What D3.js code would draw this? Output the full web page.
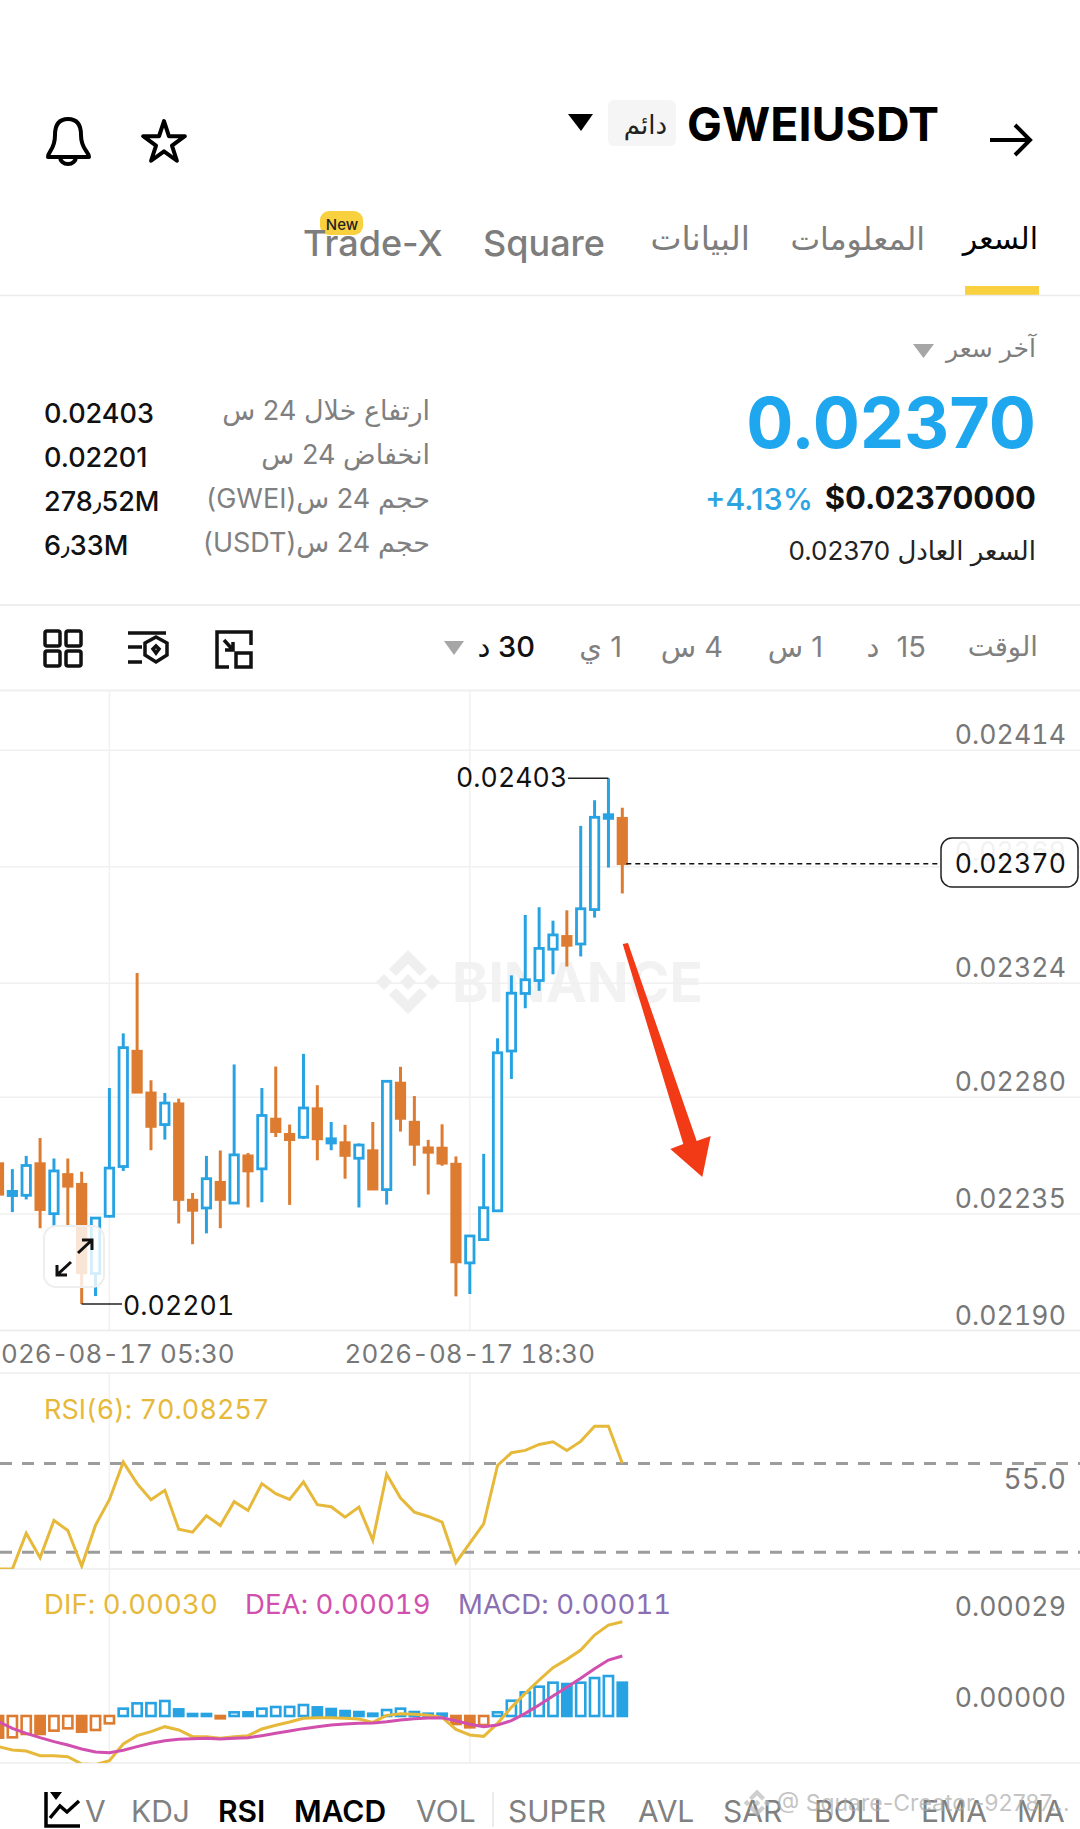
<!DOCTYPE html>
<html>
<head>
	<meta charset="utf-8">
	<script type="text/javascript" src="https://cdn.jsdelivr.net/npm/d3@7"></script>
	<style>
		html, body { margin: 0; padding: 0; background: #fff; }
		svg { display: block; }
		.tnum { font-variant-numeric: tabular-nums; }
	</style>
</head>
<body>
	<script type="text/javascript">

	// candles, oldest first
	var candleOpen = [0.022542,0.022419,0.022420,0.022542,0.022349,0.022500,0.022462,0.022118,0.022339,0.022531,0.022976,0.022815,0.022693,0.022773,0.022401,0.022371,0.022470,0.022390,0.022572,0.022522,0.022714,0.022655,0.022644,0.022754,0.022622,0.022623,0.022563,0.022592,0.022442,0.022853,0.022702,0.022603,0.022602,0.022540,0.022159,0.022249,0.022360,0.022977,0.023199,0.023249,0.023370,0.023419,0.023390,0.023523,0.023875,0.023875];
	var candleHigh = [0.022583,0.022521,0.022572,0.022641,0.022562,0.022562,0.022511,0.022332,0.022834,0.023045,0.023278,0.022864,0.022815,0.022793,0.022429,0.022572,0.022593,0.022925,0.022583,0.022834,0.022917,0.022693,0.022966,0.022845,0.022703,0.022692,0.022620,0.022703,0.022863,0.022916,0.022803,0.022634,0.022694,0.022570,0.022266,0.022580,0.023026,0.023269,0.023502,0.023532,0.023480,0.023520,0.023846,0.023945,0.024030,0.023916];
	var candleLow = [0.022376,0.022355,0.022404,0.022293,0.022300,0.022300,0.022000,0.022031,0.022335,0.022514,0.022818,0.022594,0.022635,0.022311,0.022231,0.022273,0.022293,0.022386,0.022373,0.022393,0.022645,0.022383,0.022638,0.022555,0.022594,0.022484,0.022373,0.022444,0.022384,0.022666,0.022534,0.022423,0.022534,0.022030,0.022039,0.022249,0.022360,0.022869,0.023142,0.023209,0.023273,0.023303,0.023342,0.023492,0.023685,0.023585];
	var candleClose = [0.022424,0.022435,0.022535,0.022365,0.022514,0.022455,0.022121,0.022332,0.022525,0.022990,0.022818,0.022686,0.022776,0.022404,0.022362,0.022484,0.022404,0.022576,0.022514,0.022728,0.022666,0.022635,0.022757,0.022638,0.022638,0.022574,0.022614,0.022444,0.022860,0.022717,0.022617,0.022586,0.022544,0.022163,0.022263,0.022372,0.022970,0.023200,0.023252,0.023373,0.023425,0.023385,0.023526,0.023879,0.023889,0.023700];

	var rsiValues = [22.45,22.45,38.60,27.59,44.34,39.81,23.81,42.23,53.70,70.60,60.94,53.70,57.92,40.42,39.06,46.45,42.08,52.79,48.87,60.94,56.42,53.85,61.70,51.43,50.53,45.85,50.38,35.44,65.17,54.45,48.11,46.15,43.59,25.32,34.08,42.83,69.09,74.83,75.89,78.60,79.81,75.89,79.96,86.75,86.75,70.08];

	var macdBars = [-0.0000690,-0.0000680,-0.0000573,-0.0000573,-0.0000467,-0.0000393,-0.0000499,-0.0000446,-0.0000234,0.0000234,0.0000403,0.0000410,0.0000478,0.0000212,0.0000064,0.0000064,-0.0000074,0.0000117,0.0000117,0.0000234,0.0000287,0.0000290,0.0000350,0.0000276,0.0000223,0.0000159,0.0000127,0.0000074,0.0000191,0.0000234,0.0000127,0.0000074,0.0000074,-0.0000255,-0.0000361,-0.0000287,0.0000117,0.0000488,0.0000754,0.0000934,0.0001062,0.0001019,0.0001062,0.0001210,0.0001274,0.0001062];
	var difValues = [-0.0000977,-0.0001083,-0.0001115,-0.0001263,-0.0001263,-0.0001295,-0.0001529,-0.0001550,-0.0001423,-0.0000892,-0.0000626,-0.0000499,-0.0000340,-0.0000446,-0.0000658,-0.0000658,-0.0000711,-0.0000658,-0.0000626,-0.0000414,-0.0000297,-0.0000191,-0.0000074,-0.0000053,-0.0000053,-0.0000074,-0.0000096,-0.0000202,0.0000021,0.0000074,0.0000053,0.0000021,-0.0000042,-0.0000425,-0.0000605,-0.0000648,-0.0000234,0.0000276,0.0000722,0.0001147,0.0001539,0.0001805,0.0002102,0.0002580,0.0002898,0.0003004];
	var deaValues = [-0.0000180,-0.0000393,-0.0000552,-0.0000690,-0.0000817,-0.0000924,-0.0001051,-0.0001147,-0.0001168,-0.0001093,-0.0000977,-0.0000871,-0.0000786,-0.0000743,-0.0000722,-0.0000711,-0.0000733,-0.0000711,-0.0000690,-0.0000626,-0.0000552,-0.0000478,-0.0000403,-0.0000340,-0.0000287,-0.0000255,-0.0000234,-0.0000223,-0.0000180,-0.0000127,-0.0000085,-0.0000064,-0.0000053,-0.0000149,-0.0000265,-0.0000340,-0.0000287,-0.0000149,0.0000085,0.0000350,0.0000637,0.0000913,0.0001200,0.0001507,0.0001783,0.0001911];

	var priceTicks = [0.02414,0.02369,0.02324,0.02280,0.02235,0.02190];
	var rsiLevels = [70,30];
	var rsiTick = [55];
	var macdTicks = [0.00029,0];
	var timeTicks = [[8,"2026-08-17 05:30"],[34,"2026-08-17 18:30"]];

	var tabs = ["السعر","المعلومات","البيانات","Square","Trade-X"];
	var timeframes = ["الوقت","15 د","1 س","4 س","1 ي","30 د"];
	var statNames = ["ارتفاع خلال 24 س","انخفاض 24 س","حجم 24 س(GWEI)","حجم 24 س(USDT)"];
	var statValues = ["0.02403","0.02201","278٫52M","6٫33M"];
	var indicators = ["V","KDJ","RSI","MACD","VOL","SUPER","AVL","SAR","BOLL","EMA","MA"];

	var w = 1080;
	var h = 1829;
	var latin = "Inter, 'DejaVu Sans', sans-serif";
	var orange = "#dd7c31";
	var blue = "#27a3e3";
	var gridColor = "#f0f0f0";
	var logoPath = "M0 -32 L19 -13 L12 -6 L0 -18 L-12 -6 L-19 -13 Z M0 32 L19 13 L12 6 L0 18 L-12 6 L-19 13 Z M-32 0 L-24 -8 L-16 0 L-24 8 Z M32 0 L24 -8 L16 0 L24 8 Z M0 -8 L8 0 L0 8 L-8 0 Z";

	var svg = d3.select("body")
	.append("svg")
	.attr("width", w)
	.attr("height", h)
	.attr("font-family", latin);

	function label(x, y, str, size, color, weight, anchor){
		return svg.append("text")
		.attr("x", x)
		.attr("y", y)
		.attr("dominant-baseline", "central")
		.attr("font-size", size)
		.attr("fill", color)
		.attr("font-weight", weight || 400)
		.attr("text-anchor", anchor || "start")
		.text(str);
	}

	function rtl(x, y, str, size, color, weight){
		return label(x, y, str, size, color, weight, "start").attr("direction", "rtl");
	}

	// chart labels use even digit widths
	function wide(x, y, str, color, anchor, size){
		return label(x, y, str, size || 26.6, color, 400, anchor).attr("class", "tnum").attr("letter-spacing", 0.1);
	}

	// ---- scales
	var index = d3.range(candleOpen.length);

	var xscale = d3.scaleLinear()
	.domain([0, 45])
	.range([-1.5, 622.3]);

	var yscale = d3.scaleLinear()
	.domain([0.02414, 0.02190])
	.range([749.7, 1330]);

	var rsiScale = d3.scaleLinear()
	.domain([70, 30])
	.range([1463.5, 1552.3]);

	var macdScale = d3.scaleLinear()
	.domain([0, 0.00029])
	.range([1716, 1625]);

	// ---- header
	svg.append("path")
	.attr("d", "M48 157 C48 151 55 150 55 135 C55 124 60 119 68 119 C76 119 81 124 81 135 C81 150 89 151 89 157 Z M60 157 A8 7 0 0 0 76 157")
	.attr("fill", "none").attr("stroke", "#000").attr("stroke-width", 4).attr("stroke-linejoin", "round");
	svg.append("path")
	.attr("d", d3.symbol().type(d3.symbolStar).size(540)())
	.attr("transform", "translate(164,143)")
	.attr("fill", "none").attr("stroke", "#000").attr("stroke-width", 4).attr("stroke-linejoin", "round");
	svg.append("path")
	.attr("d", "M568 114 L593 114 L581 131 Z")
	.attr("fill", "#000");
	svg.append("rect").attr("x", 608).attr("y", 100).attr("width", 68).attr("height", 46).attr("rx", 6).attr("fill", "#f5f5f5");
	rtl(667, 124, "دائم", 26, "#222");
	label(687, 124, "GWEIUSDT", 46.5, "#000", 700);
	svg.append("path")
	.attr("d", "M990 140 H1029 M1015 125 L1030 140 L1015 155")
	.attr("fill", "none").attr("stroke", "#000").attr("stroke-width", 4);

	// ---- tabs
	var tabRight = [1038, 925, 750];
	var tabSize = [30, 31.5, 33];
	tabs.slice(0, 3).forEach(function(d, i){
		rtl(tabRight[i], 238, d, tabSize[i], i == 0 ? "#000" : "#7d7d7d");
	});
	label(483, 243, tabs[3], 36, "#7d7d7d", 500);
	svg.append("rect").attr("x", 320).attr("y", 211).attr("width", 43).attr("height", 24).attr("rx", 9).attr("fill", "#f9d13e");
	label(342, 224, "New", 15, "#222", 500, "middle");
	label(303, 243, tabs[4], 36, "#7d7d7d", 500);
	svg.append("rect").attr("x", 965).attr("y", 286).attr("width", 74).attr("height", 9).attr("fill", "#f9d13e");
	svg.append("line").attr("x1", 0).attr("x2", w).attr("y1", 295.5).attr("y2", 295.5).attr("stroke", "#ececec").attr("stroke-width", 1.5);

	// ---- summary
	rtl(1036, 348, "آخر سعر", 25, "#7d7d7d");
	svg.append("path").attr("d", "M913 344 H934 L923.5 358 Z").attr("fill", "#a6a6a6");
	label(1036, 422, "0.02370", 70, "#1ea7ee", 700, "end");
	label(705, 498, "+4.13%", 30.5, "#2ca4e2", 500);
	label(1036, 497, "$0.02370000", 31, "#111", 700, "end");
	rtl(1036, 550, "السعر العادل 0.02370", 26, "#222");

	statNames.forEach(function(d, i){
		var y = 413 + i * 44;
		rtl(430, y - 3, d, 27, "#808080");
		label(44, y, statValues[i], 27, "#111", 500);
	});

	svg.append("line").attr("x1", 0).attr("x2", w).attr("y1", 605).attr("y2", 605).attr("stroke", "#efefef").attr("stroke-width", 2);
	svg.append("line").attr("x1", 0).attr("x2", w).attr("y1", 690.5).attr("y2", 690.5).attr("stroke", "#efefef").attr("stroke-width", 2);

	// ---- timeframe row
	var frameRight = [1038, 926, 823, 723, 622, 535];
	timeframes.forEach(function(d, i){
		rtl(frameRight[i], 646, d, i == 0 ? 27.5 : 29, i == 5 ? "#111" : "#808080", i == 5 ? 500 : 400)
		.attr("word-spacing", i == 1 ? 9 : 0);
	});
	svg.append("path").attr("d", "M444 641 H464 L454 655 Z").attr("fill", "#a6a6a6");

	// small toolbar icons
	var icon = svg.append("g").attr("fill", "none").attr("stroke", "#111").attr("stroke-width", 3.5);
	[[45,631],[66,631],[45,651],[66,651]].forEach(function(p){
		icon.append("rect").attr("x", p[0]).attr("y", p[1]).attr("width", 15).attr("height", 15).attr("rx", 2);
	});
	icon.append("path").attr("d", "M128 633 H166 M128 647 H142 M128 662 H142 M156 637 L167 643 V655 L156 662 L145 655 V643 Z M156 646 L159 649 L156 653 L153 649 Z");
	icon.append("path").attr("d", "M228 632 H217 V667 H229 M228 632 H251 V645 M224 640 L233 650 M233 642 V650 H225");
	icon.append("rect").attr("x", 236).attr("y", 653).attr("width", 15).attr("height", 14);

	// ---- vertical grid
	timeTicks.forEach(function(t){
		svg.append("line")
		.attr("x1", xscale(t[0])).attr("x2", xscale(t[0]))
		.attr("y1", 691).attr("y2", 1330)
		.attr("stroke", gridColor).attr("stroke-width", 1.5);
		svg.append("line")
		.attr("x1", xscale(t[0])).attr("x2", xscale(t[0]))
		.attr("y1", 1373).attr("y2", 1763)
		.attr("stroke", gridColor).attr("stroke-width", 1.5);
	});

	// ---- watermark
	svg.append("path").attr("d", logoPath).attr("transform", "translate(408,982)").attr("fill", "#efefef");
	label(452, 982, "BINANCE", 55, "#f2f2f2", 700);

	// ---- price axis
	var priceAxis = d3.axisLeft(yscale)
	.tickValues(priceTicks)
	.tickFormat(d3.format(".5f"))
	.tickSize(w)
	.tickPadding(0);

	var priceG = svg.append("g")
	.attr("transform", "translate(" + w + ",0)")
	.call(priceAxis);
	priceG.select(".domain").remove();
	priceG.selectAll("line").attr("stroke", gridColor).attr("stroke-width", 1.5);
	priceG.selectAll("text")
	.attr("class", "tnum")
	.attr("x", -14)
	.attr("dy", "-16px")
	.attr("dominant-baseline", "central")
	.attr("font-family", latin)
	.attr("font-size", 26.6)
	.attr("letter-spacing", 0.1)
	.attr("fill", "#777");

	// ---- candles
	function isUp(i){ return candleClose[i] >= candleOpen[i]; }

	svg.append("g").selectAll("line")
	.data(index)
	.enter()
	.append("line")
	.attr("x1", function(i){ return xscale(i); })
	.attr("x2", function(i){ return xscale(i); })
	.attr("y1", function(i){ return yscale(candleHigh[i]); })
	.attr("y2", function(i){ return yscale(candleLow[i]); })
	.attr("stroke", function(i){ return isUp(i) ? blue : orange; })
	.attr("stroke-width", 3);

	svg.append("g").selectAll("rect")
	.data(index)
	.enter()
	.append("rect")
	.attr("x", function(i){ return xscale(i) - 4.2; })
	.attr("width", 8.4)
	.attr("y", function(i){ return yscale(Math.max(candleOpen[i], candleClose[i])); })
	.attr("height", function(i){ return Math.abs(yscale(candleOpen[i]) - yscale(candleClose[i])); })
	.attr("fill", function(i){
		// a very short up candle closes up solid
		if(isUp(i) && Math.abs(yscale(candleOpen[i]) - yscale(candleClose[i])) > 5) return "#fff";
		return isUp(i) ? blue : orange;
	})
	.attr("stroke", function(i){ return isUp(i) ? blue : orange; })
	.attr("stroke-width", 2.8);

	// high and low leaders
	svg.append("path")
	.attr("d", "M" + xscale(44) + " " + yscale(d3.max(candleHigh)) + " H568")
	.attr("stroke", "#222").attr("fill", "none").attr("stroke-width", 1.5);
	wide(456, 777, "0.02403", "#111");
	svg.append("path")
	.attr("d", "M" + xscale(6) + " " + yscale(d3.min(candleLow)) + " H122")
	.attr("stroke", "#222").attr("fill", "none").attr("stroke-width", 1.5);
	wide(123, 1305, "0.02201", "#111");

	// last price
	svg.append("line")
	.attr("x1", xscale(45) + 4)
	.attr("x2", 940)
	.attr("y1", yscale(candleClose[45]))
	.attr("y2", yscale(candleClose[45]))
	.attr("stroke", "#111").attr("stroke-width", 1.5).attr("stroke-dasharray", "5 4");
	svg.append("rect").attr("x", 941).attr("y", 838).attr("width", 137).attr("height", 49).attr("rx", 11)
	.attr("fill", "#fff").attr("fill-opacity", 0.9).attr("stroke", "#222").attr("stroke-width", 1.5);
	wide(1066, 862.5, "0.02370", "#111", "end");

	// resize button
	svg.append("rect").attr("x", 44).attr("y", 1226).attr("width", 60).attr("height", 61).attr("rx", 12)
	.attr("fill", "#fff").attr("fill-opacity", 0.8).attr("stroke", "#eee").attr("stroke-width", 2);
	svg.append("path")
	.attr("d", "M78 1253 L92 1240 M82 1240 H92 V1250 M71 1262 L57 1275 M57 1265 V1275 H67")
	.attr("fill", "none").attr("stroke", "#111").attr("stroke-width", 3);

	// annotation arrow
	svg.append("path")
	.attr("d", "M622.7 944 L628 943 L696.7 1141 L710.7 1136 L702.3 1177 L670.3 1149 L683.3 1144 Z")
	.attr("fill", "#f23a16");

	// ---- time labels
	timeTicks.forEach(function(t){
		wide(xscale(t[0]), 1353, t[1], "#777", "middle", 25.9);
	});

	[1330.5, 1373, 1569, 1763].forEach(function(y){
		svg.append("line").attr("x1", 0).attr("x2", w).attr("y1", y).attr("y2", y).attr("stroke", "#ececec").attr("stroke-width", 1.5);
	});

	// ---- RSI
	svg.append("defs").append("clipPath").attr("id", "rsiClip")
	.append("rect").attr("x", 0).attr("y", 1373).attr("width", w).attr("height", 196);
	d3.select("defs").append("clipPath").attr("id", "macdClip")
	.append("rect").attr("x", 0).attr("y", 1569).attr("width", w).attr("height", 194);

	svg.selectAll(".level")
	.data(rsiLevels)
	.enter()
	.append("line")
	.attr("class", "level")
	.attr("x1", 0).attr("x2", w)
	.attr("y1", function(d){ return rsiScale(d); })
	.attr("y2", function(d){ return rsiScale(d); })
	.attr("stroke", "#9c9c9c").attr("stroke-width", 3).attr("stroke-dasharray", "12 10");

	var rsiLine = d3.line()
	.x(function(d, i){ return xscale(i); })
	.y(function(d){ return rsiScale(d); });

	svg.append("path")
	.datum(rsiValues)
	.attr("d", rsiLine)
	.attr("clip-path", "url(#rsiClip)")
	.attr("fill", "none").attr("stroke", "#e6b93a").attr("stroke-width", 3);

	wide(44, 1409, "RSI(6): 70.08257", "#e6b93a", "start", 26.9);
	rsiTick.forEach(function(d){
		wide(1066, rsiScale(d) - 18, d3.format(".1f")(d), "#777", "end", 28);
	});

	// ---- MACD
	var macdG = svg.append("g").attr("clip-path", "url(#macdClip)");
	macdG.selectAll("rect")
	.data(macdBars)
	.enter()
	.append("rect")
	.attr("x", function(d, i){ return xscale(i) - 4.6; })
	.attr("width", 9.2)
	.attr("y", function(d){ return Math.min(macdScale(d), macdScale(0)); })
	.attr("height", function(d){ return Math.abs(macdScale(d) - macdScale(0)); })
	.attr("fill", function(d, i){
		// rising bars are hollow
		if(i > 0 && d > macdBars[i-1]) return "#fff";
		return d >= 0 ? blue : orange;
	})
	.attr("stroke", function(d){ return d >= 0 ? blue : orange; })
	.attr("stroke-width", 2.6);

	function macdLine(values, color){
		var line = d3.line()
		.x(function(d, i){ return xscale(i); })
		.y(function(d){ return macdScale(d); });
		macdG.append("path")
		.datum(values)
		.attr("d", line)
		.attr("fill", "none").attr("stroke", color).attr("stroke-width", 3);
	}
	macdLine(difValues, "#e6b93a");
	macdLine(deaValues, "#d14fae");

	wide(44, 1604, "DIF: 0.00030", "#e6b93a", "start", 27.5);
	wide(245, 1604, "DEA: 0.00019", "#d14fae", "start", 27.5);
	wide(458, 1604, "MACD: 0.00011", "#8b6fb3", "start", 27.5);
	macdTicks.forEach(function(d){
		wide(1066, macdScale(d) - 19, d3.format(".5f")(d), "#777", "end");
	});

	// ---- indicator row
	var indicatorX = [85,131,218,294,416,508,638,723,814,921,1017];
	indicators.forEach(function(d, i){
		var on = d == "RSI" || d == "MACD";
		label(indicatorX[i], 1811, d, 30, on ? "#000" : "#808080", on ? 600 : 400);
	});
	svg.append("line").attr("x1", 493).attr("x2", 493).attr("y1", 1792).attr("y2", 1827).attr("stroke", "#e5e5e5").attr("stroke-width", 1.5);
	svg.append("path").attr("d", "M46 1792 V1826 H80 M50 1818 L60 1806 L67 1812 L79 1801").attr("fill", "none").attr("stroke", "#000").attr("stroke-width", 3.5);
	svg.append("path").attr("d", "M50 1792 H62 L56 1800 Z").attr("fill", "#000");
	svg.append("path").attr("d", logoPath).attr("transform", "translate(757,1803) scale(0.42)").attr("fill", "#bbb").attr("fill-opacity", 0.7);
	label(777, 1803, "@ Square-Creator-92787...", 23, "#aaa").attr("fill-opacity", 0.7);

	</script>
</body>
</html>
